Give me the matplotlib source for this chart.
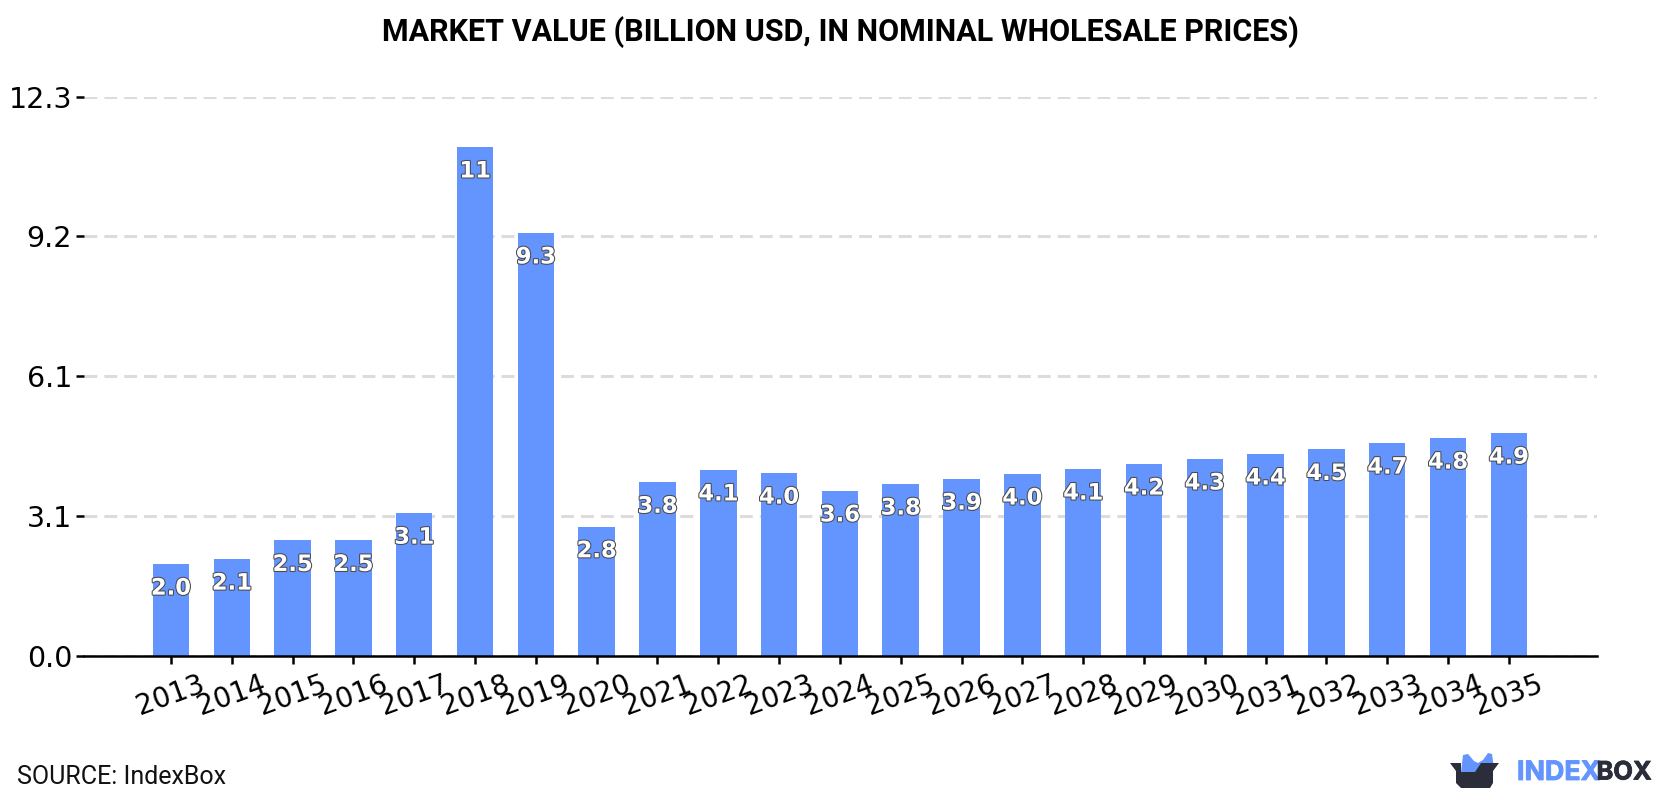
import matplotlib
matplotlib.use("Agg")
import matplotlib.pyplot as plt
import matplotlib.patheffects as pe
from matplotlib.patches import Polygon

# Market value series, billion USD
years = [2013, 2014, 2015, 2016, 2017, 2018, 2019, 2020, 2021, 2022, 2023, 2024,
         2025, 2026, 2027, 2028, 2029, 2030, 2031, 2032, 2033, 2034, 2035]
values = [2.02, 2.13, 2.54, 2.54, 3.14, 11.19, 9.30, 2.84, 3.82, 4.09, 4.02, 3.63,
          3.78, 3.89, 4.00, 4.11, 4.22, 4.33, 4.44, 4.54, 4.68, 4.79, 4.90]
y_ticks = [0.0, 3.075, 6.15, 9.225, 12.3]
y_tick_labels = ["0.0", "3.1", "6.1", "9.2", "12.3"]

BAR = "#6495ff"
DARK = "#2b2d3a"
W, H = 1680, 800

fig = plt.figure(figsize=(W / 100, H / 100), dpi=100, facecolor="white")
ax = fig.add_axes([84 / W, 1 - 656 / H, (1597 - 84) / W, (656 - 96.5) / H])

x = list(range(len(years)))
ax.bar(x, values, width=0.6, color=BAR, zorder=3)
ax.set_xlim(-1.43, 23.45)
ax.set_ylim(0, 12.3)

ax.set_yticks(y_ticks)
ax.set_yticklabels(y_tick_labels, fontsize=20.5)
ax.set_xticks(x)
ax.set_xticklabels([str(y) for y in years], rotation=20, ha="center", fontsize=20)
ax.tick_params(axis="both", length=5.5, width=1.8, colors="black")
ax.tick_params(axis="x", pad=4.5)
ax.tick_params(axis="y", pad=3)
ax.grid(axis="y", color="#dcdcdc", linewidth=2.2, linestyle=(0, (4.2, 2.3)), zorder=1)
ax.set_axisbelow(True)
for side in ("top", "right", "left"):
    ax.spines[side].set_visible(False)
ax.spines["bottom"].set_linewidth(1.8)
ax.spines["bottom"].set_zorder(5)

# Value labels sit just inside the top of each bar
for xi, v in zip(x, values):
    label = f"{v:.0f}" if v >= 10 else f"{v:.1f}"
    ax.annotate(label, (xi, v), xytext=(0, -24), textcoords="offset pixels",
                ha="center", va="center", fontsize=16.3, fontweight="bold",
                family="DejaVu Sans", color="white", zorder=6,
                path_effects=[pe.withStroke(linewidth=1.5, foreground="#4a4a4a")])

fig.text(840 / W, 1 - 32 / H, "MARKET VALUE (BILLION USD, IN NOMINAL WHOLESALE PRICES)",
         ha="center", va="center", family="Roboto", fontweight="bold", fontsize=22, color="black")
fig.text(17 / W, 1 - 777.5 / H, "SOURCE: IndexBox", ha="left", va="center",
         family="Roboto", fontsize=18, color="#111111")


def to_fig(points):
    return [(px / W, 1 - py / H) for px, py in points]


# Brand mark: open box with blue ears, then the word mark
ears = [(1461, 772), (1463, 755), (1468, 754), (1474, 761), (1478, 763), (1483, 760),
        (1488, 753), (1492, 754), (1494, 768), (1490, 772)]
fig.add_artist(Polygon(to_fig(ears), closed=True, facecolor=BAR, edgecolor="none"))
box = [(1450, 763), (1461, 763), (1461, 772), (1475, 772), (1481, 763), (1499, 763),
       (1493, 771), (1493, 783), (1490, 788), (1461, 788), (1456, 783), (1456, 771)]
fig.add_artist(Polygon(to_fig(box), closed=True, facecolor=DARK, edgecolor="none"))
fig.text(1517 / W, 1 - 773 / H, "INDEX", ha="left", va="center", family="Inter",
         fontweight="bold", fontsize=19.3, color=BAR,
         path_effects=[pe.withStroke(linewidth=0.6, foreground=BAR)])
fig.text(1596.5 / W, 1 - 773 / H, "BOX", ha="left", va="center", family="Inter",
         fontweight="bold", fontsize=18.3, color=DARK,
         path_effects=[pe.withStroke(linewidth=0.6, foreground=DARK)])

fig.savefig("out.png", dpi=100, facecolor="white")
